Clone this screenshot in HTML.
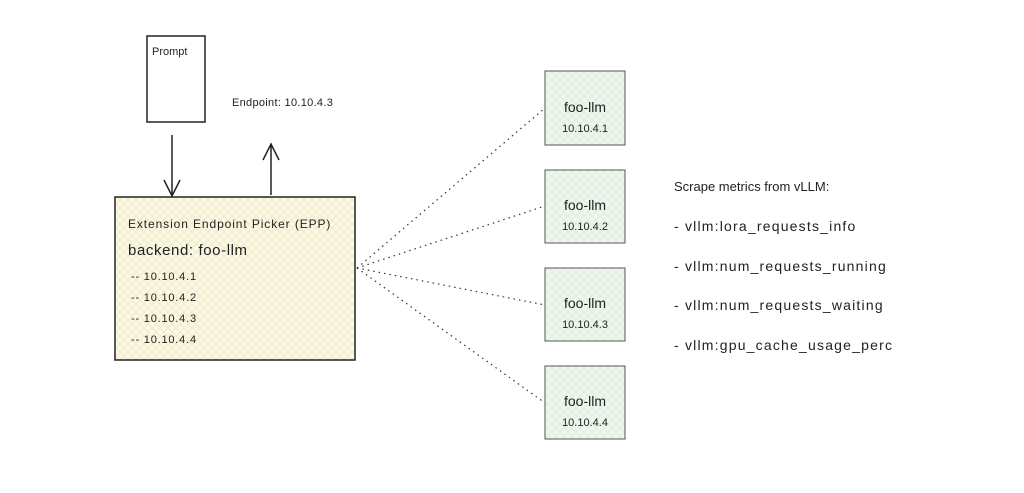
<!DOCTYPE html>
<html><head><style>
body{margin:0;background:#fff;}
svg text{font-family:"Liberation Sans",sans-serif;fill:#222;}
</style></head><body>
<svg width="1024" height="488" xmlns="http://www.w3.org/2000/svg">
<defs>
<pattern id="h" width="8" height="8" patternUnits="userSpaceOnUse">
<rect width="8" height="8" fill="#fbf8e3"/>
<path d="M0 0L8 8M8 0L0 8" stroke="#ece6c4" stroke-width="0.7"/>
</pattern>
<pattern id="g" width="8" height="8" patternUnits="userSpaceOnUse">
<rect width="8" height="8" fill="#eef6ee"/>
<path d="M0 0L8 8M8 0L0 8" stroke="#dcebdc" stroke-width="0.7"/>
</pattern>
</defs>
<rect x="147" y="36" width="58" height="86" fill="#fff" stroke="#222" stroke-width="1.5"/>
<text x="152" y="55" font-size="11">Prompt</text>
<text x="232" y="106" font-size="11" letter-spacing="0.3">Endpoint: 10.10.4.3</text>
<g stroke="#222" stroke-width="1.5" fill="none">
<path d="M172 135V196M164 180L172 196L180 180"/>
<path d="M271 195V144M263 160L271 144L279 160"/>
</g>
<rect x="115" y="197" width="240" height="163" fill="url(#h)" stroke="#222" stroke-width="1.5"/>
<text x="128" y="228" font-size="12" letter-spacing="0.9">Extension Endpoint Picker (EPP)</text>
<text x="128" y="255" font-size="15" letter-spacing="0.6">backend: foo-llm</text>
<g font-size="11" letter-spacing="0.8">
<text x="131" y="280">-- 10.10.4.1</text>
<text x="131" y="301">-- 10.10.4.2</text>
<text x="131" y="322">-- 10.10.4.3</text>
<text x="131" y="343">-- 10.10.4.4</text>
</g>
<g stroke="#333" stroke-width="1.2" stroke-dasharray="1.5 4" fill="none">
<path d="M357 268L545 108"/><path d="M357 268L545 206"/><path d="M357 268L545 305"/><path d="M357 268L545 403"/>
</g>
<g stroke="#555" stroke-width="1" fill="url(#g)">
<rect x="545" y="71" width="80" height="74"/>
<rect x="545" y="170" width="80" height="73"/>
<rect x="545" y="268" width="80" height="73"/>
<rect x="545" y="366" width="80" height="73"/>
</g>
<g text-anchor="middle">
<text x="585" y="112" font-size="14">foo-llm</text><text x="585" y="132" font-size="11">10.10.4.1</text>
<text x="585" y="210" font-size="14">foo-llm</text><text x="585" y="230" font-size="11">10.10.4.2</text>
<text x="585" y="308" font-size="14">foo-llm</text><text x="585" y="328" font-size="11">10.10.4.3</text>
<text x="585" y="406" font-size="14">foo-llm</text><text x="585" y="426" font-size="11">10.10.4.4</text>
</g>
<text x="674" y="191" font-size="13">Scrape metrics from vLLM:</text>
<g font-size="14" letter-spacing="1.2">
<text x="674" y="231">- vllm:lora_requests_info</text>
<text x="674" y="271">- vllm:num_requests_running</text>
<text x="674" y="310">- vllm:num_requests_waiting</text>
<text x="674" y="350">- vllm:gpu_cache_usage_perc</text>
</g>
</svg>
</body></html>
